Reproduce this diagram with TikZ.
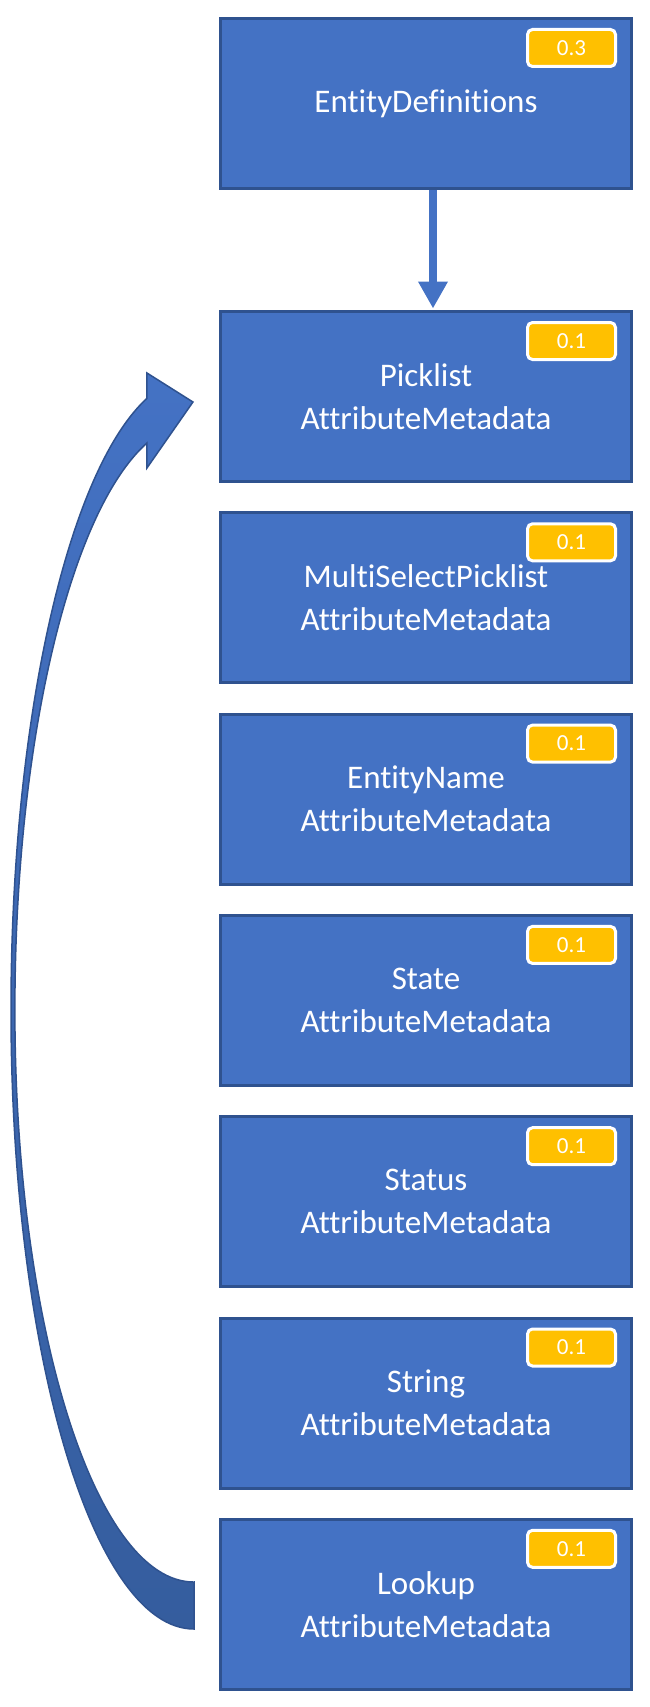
\documentclass[tikz,border=0pt]{standalone}
\usepackage{fontspec}
\setmainfont{Carlito}[Ligatures=CommonOff]
\usetikzlibrary{arrows.meta,calc}
\definecolor{boxblue}{HTML}{4472C4}
\definecolor{boxline}{HTML}{2F528F}
\definecolor{badgegold}{HTML}{FFC000}
\definecolor{arrowdark}{HTML}{355D9E}
\tikzset{
  metabox/.style={draw=boxline, line width=3pt, fill=boxblue, text=white,
    minimum width=411pt, minimum height=170pt, inner sep=0pt, outer sep=0pt,
    align=center, font=\fontsize{33}{43}\selectfont},
  badge/.style={draw=white, line width=3pt, fill=badgegold, rounded corners=5pt,
    text=white, minimum width=88pt, minimum height=37pt, inner sep=0pt,
    font=\fontsize{23}{26}\selectfont},
}
\begin{document}
\begin{tikzpicture}[x=1pt, y=1pt]
        % Page frame
        \useasboundingbox (0,0) rectangle (649,-1707);
        % Top box
        \node[metabox] (defs) at (426,-103.5) {EntityDefinitions};
        \node[badge] (defs-v) at ($(defs.north east)+(-60,-29.5)$) {0.3};
        % Attribute metadata boxes
        \foreach \n/\t [count=\i] in {pick/Picklist, multi/MultiSelectPicklist,
            ename/EntityName, state/State, status/Status, string/String, lookup/Lookup} {
          \node[metabox] (\n) at (426,{-396.5-201.3*(\i-1)}) {\t\\AttributeMetadata};
          \node[badge] (\n-v) at ($(\n.north east)+(-60,-29.5)$) {0.1};
        }
        % Straight arrow
        \draw[boxblue, line width=8pt, -{Triangle[width=28pt, length=27pt]}]
          ($(defs.south)+(7,-1.5)$) -- ($(pick.north)+(7,3)$);
        % Curved arrow back up
        \draw[boxline, line width=1.5pt, top color=boxblue, bottom color=arrowdark]
          ($(lookup.west)+(-26.5,22.3)$) -- ++(0,-47)
          arc[start angle=270, end angle=180, x radius=183, y radius=619]
          arc[start angle=180, end angle=104.9, x radius=183, y radius=633]
          -- ++(0,25.3) -- ++(46,-29) -- ++(-46,-66) -- ++(0,25)
          arc[start angle=105.2, end angle=180, x radius=179, y radius=587.6]
          arc[start angle=180, end angle=270, x radius=179, y radius=572]
          -- cycle;
      \end{tikzpicture}
\end{document}
